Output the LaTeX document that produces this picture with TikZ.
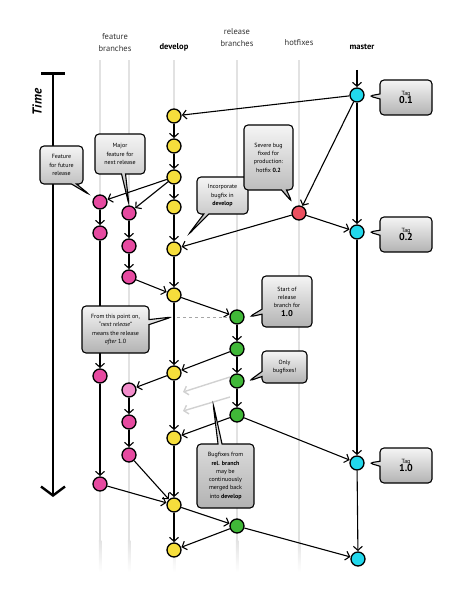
\documentclass[tikz,border=0pt]{standalone}
\usepackage{fontspec}
\setmainfont{PT Sans}
\usetikzlibrary{arrows.meta,shapes.callouts,calc}
\definecolor{cyellow}{HTML}{F6DE3C}
\definecolor{cpink}{HTML}{E64AA0}
\definecolor{clpink}{HTML}{F28DCB}
\definecolor{cgreen}{HTML}{40B838}
\definecolor{ccyan}{HTML}{22D8EC}
\definecolor{cred}{HTML}{EC5060}
\definecolor{lane}{HTML}{E2E2E2}
\begin{document}
\begin{tikzpicture}[x=1pt,y=-1pt,
  commit/.style={circle,draw=black,line width=1.3pt,minimum size=14pt,inner sep=0pt},
  devc/.style={commit,fill=cyellow},
  featc/.style={commit,fill=cpink},
  lfeatc/.style={commit,fill=clpink},
  relc/.style={commit,fill=cgreen},
  masc/.style={commit,fill=ccyan},
  hotc/.style={commit,fill=cred},
  flow/.style={line width=1.1pt,-{Straight Barb[length=4pt,width=9pt,line width=1.1pt]},shorten >=0.3pt},
  ghost/.style={draw=black!18,line width=1.4pt,-{Straight Barb[length=4pt,width=9pt,line width=1.4pt]}},
  note/.style={rectangle callout,rounded corners=4pt,draw=black,line width=1.1pt,
    top color=black!4,bottom color=black!30,align=center,inner sep=0pt,
    font=\fontsize{6}{8.3}\selectfont,callout pointer width=5pt},
  header/.style={align=center,font=\fontsize{8.5}{12}\selectfont,text=black!80},
  lanestyle/.style={draw=lane,line width=2.5pt}
]
\useasboundingbox (0,0) rectangle (474,604);

% lanes
\foreach \lx in {100,129,174,237,299}{
  \draw[lanestyle] (\lx,60) -- (\lx,540);
  \shade[top color=lane,bottom color=white] (\lx-1.25,540) rectangle (\lx+1.25,572);
}

% headers
\node[header] (hfeat) at (115,43) {feature\\branches};
\node[header,font=\fontsize{8.5}{12}\selectfont\bfseries,text=black] (hdev) at (174,47) {develop};
\node[header] (hrel) at (237,38) {release\\branches};
\node[header] (hhot) at (299,43) {hotfixes};
\node[header,font=\fontsize{8.5}{12}\selectfont\bfseries,text=black] (hmas) at (362,47) {master};

% time axis
\coordinate (t0) at (53,72);
\coordinate (t1) at (53,497);
\draw[line width=2.4pt,{Bar[width=24pt,line width=3pt]}-{Straight Barb[length=9pt,width=24pt,line width=2.4pt]}] (t0) -- (t1);
\node[rotate=90,font=\fontsize{13}{13}\selectfont\bfseries\itshape] (timelbl) at (37,102) {Time};

% commits
\node[masc] (M1) at (357,95) {};
\node[masc] (M2) at (357,232) {};
\node[masc] (M3) at (357,463) {};
\node[masc] (M4) at (358,559) {};
\node[hotc] (H1) at (299,213) {};
\node[devc] (D1) at (174,116) {};
\node[devc] (D2) at (174,146) {};
\node[devc] (D3) at (174,177) {};
\node[devc] (D4) at (174,207) {};
\node[devc] (D5) at (174,249) {};
\node[devc] (D6) at (174,295) {};
\node[devc] (D7) at (174,373) {};
\node[devc] (D8) at (174,438) {};
\node[devc] (D9) at (174,505) {};
\node[devc] (D10) at (174,550) {};
\node[featc] (F1a) at (100,202) {};
\node[featc] (F1b) at (100,233) {};
\node[featc] (F1c) at (100,376) {};
\node[featc] (F1d) at (100,484) {};
\node[featc] (F2a) at (129,213) {};
\node[featc] (F2b) at (129,246) {};
\node[featc] (F2c) at (129,277) {};
\node[lfeatc] (F2d) at (129,390) {};
\node[featc] (F2e) at (129,422) {};
\node[featc] (F2f) at (129,455) {};
\node[relc] (R1) at (237,317) {};
\node[relc] (R2) at (237,349) {};
\node[relc] (R3) at (237,381) {};
\node[relc] (R4) at (237,415) {};
\node[relc] (R5) at (237,526) {};

% master / hotfix
\coordinate (mtop) at (357,70);
\draw[flow] (mtop) -- (M1);
\draw[flow] (M1) -- (M2);
\draw[flow] (M2) -- (M3);
\draw[flow] (M3) -- (M4);
\draw[flow] (M1) -- (D1);
\draw[flow] (M1) -- (H1);
\draw[flow] (H1) -- (M2);
\draw[flow] (H1) -- (D5);

% develop
\foreach \a/\b in {D1/D2,D2/D3,D3/D4,D4/D5,D5/D6,D6/D7,D7/D8,D8/D9,D9/D10}
  \draw[flow] (\a) -- (\b);

% features
\draw[flow] (D3) -- (F1a);
\draw[flow] (D3) -- (F2a);
\foreach \a/\b in {F1a/F1b,F1b/F1c,F1c/F1d,F2a/F2b,F2b/F2c,F2d/F2e,F2e/F2f}
  \draw[flow] (\a) -- (\b);
\draw[flow] (F2c) -- (D6);
\draw[flow] (D7) -- (F2d);
\draw[flow] (F2f) -- (D9);
\draw[flow] (F1d) -- (D9);

% release
\coordinate (dmark) at (177,317);
\draw[black!35,dashed,line width=0.9pt,shorten >=2pt] (dmark) -- (R1);
\draw[flow] (D6) -- (R1);
\foreach \a/\b in {R1/R2,R2/R3,R3/R4}
  \draw[flow] (\a) -- (\b);
\draw[flow] (R2) -- (D7);
\draw[flow] (R4) -- (D8);
\draw[flow] (R4) -- (M3);
\draw[flow] (D9) -- (R5);
\draw[flow] (R5) -- (D10);
\draw[flow] (R5) -- (M4);

% ghost merges
\coordinate (g1s) at (230,377);
\coordinate (g1e) at (183,392);
\coordinate (g2s) at (230,397);
\coordinate (g2e) at (183,411);
\draw[ghost] (g1s) -- (g1e);
\draw[ghost] (g2s) -- (g2e);

% callouts
\node[note,minimum width=43pt,minimum height=38pt,callout absolute pointer={(90,195)}]
  (c1) at (61.5,165) {Feature\\for future\\release};
\node[note,minimum width=50pt,minimum height=40pt,callout pointer width=4pt,callout absolute pointer={(129,205)}]
  (c2) at (120,154) {Major\\feature for\\next release};
\node[note,minimum width=51pt,minimum height=37pt,callout absolute pointer={(188,235)}]
  (c3) at (222.5,195.5) {Incorporate\\bugfix in\\\textbf{develop}};
\node[note,minimum width=49pt,minimum height=65pt,callout absolute pointer={(292,202)}]
  (c4) at (268.5,157.5) {Severe bug\\fixed for\\production:\\hotfix \textbf{0.2}};
\node[note,minimum width=52pt,minimum height=35pt,callout absolute pointer={(369,96)}]
  (c5) at (406,97.5) {Tag\\[-1pt]{\fontsize{10}{11}\selectfont\bfseries 0.1}};
\node[note,minimum width=52pt,minimum height=35pt,callout absolute pointer={(369,232)}]
  (c6) at (406,234.5) {Tag\\[-1pt]{\fontsize{10}{11}\selectfont\bfseries 0.2}};
\node[note,minimum width=50pt,minimum height=51pt,callout absolute pointer={(249,317)}]
  (c7) at (287,301.5) {Start of\\release\\branch for\\{\fontsize{8.5}{10}\selectfont\bfseries 1.0}};
\node[note,minimum width=45pt,minimum height=32pt,callout absolute pointer={(249,381)}]
  (c8) at (284.5,367) {Only\\bugfixes!};
\node[note,minimum width=67pt,minimum height=47pt,callout absolute pointer={(172,317)}]
  (c9) at (115.5,329.5) {From this point on,\\“\textit{next release}”\\means the release\\\textit{after} 1.0};
\node[note,minimum width=57pt,minimum height=64pt,callout pointer width=4pt,callout absolute pointer={(213,403)}]
  (c10) at (225.5,476) {Bugfixes from\\\textbf{rel. branch}\\may be\\continuously\\merged back\\into \textbf{develop}};
\node[note,minimum width=52pt,minimum height=35pt,callout absolute pointer={(369,463)}]
  (c11) at (406,465.5) {Tag\\[-1pt]{\fontsize{10}{11}\selectfont\bfseries 1.0}};
\end{tikzpicture}
\end{document}
